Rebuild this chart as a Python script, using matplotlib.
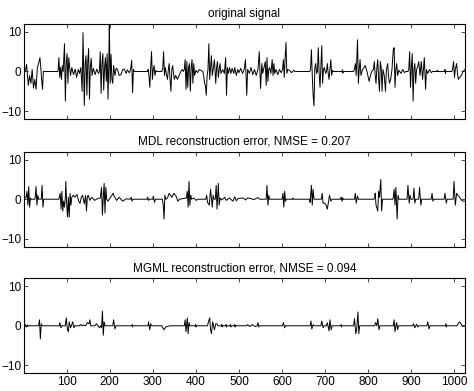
import matplotlib
matplotlib.use("Agg")
import matplotlib.pyplot as plt

# (sample index, amplitude) breakpoints
orig_pts = [
    (1, 0), (3, 0), (5, 0.5), (7, 1.8), (9, -1.0), (11, -3.5), (14, -1.0), (17, -3.0), (20, 0.5),
    (23, -4.2), (26, -2.0), (29, -4.5), (32, 1.0), (35, 2.0), (38, 3.5), (40, 1.0), (42, -2.0),
    (44, -4.5), (46, 0),
    (80, 0), (82, 3.5), (84, -1.5), (86, 1.0), (88, -2.0), (90, 1.5), (92, 0), (95, 7.0), (97, -7.5),
    (99, 2.0), (101, 4.5), (103, -3.0), (105, 3.5), (107, 1.0), (109, -1.0), (112, 1.0), (116, -0.8),
    (120, 0.6), (123, -1.5), (127, 0.5), (130, -0.5), (133, 1.0), (136, -5.0), (138, 9.8), (141, -8.6),
    (143, 2.0), (145, 4.0), (147, -6.0), (149, 2.5), (151, 5.8), (153, -7.0), (155, 1.0), (157, 3.3),
    (159, -1.0), (162, 0.8), (166, -0.8), (170, 0.6), (174, -0.5), (176, 0), (178, 5.0), (180, -5.5),
    (182, 2.0), (184, 4.5), (186, -4.7), (188, 1.0), (190, 3.5), (192, -2.5), (194, 4.5), (196, -7.0),
    (198, 3.0), (199, 12.5), (201, -3.0), (203, 4.3), (205, -2.0), (207, -3.0), (209, 1.5), (212, -1.0),
    (215, 0.8), (218, 0.5), (222, -1.0), (226, -0.8), (230, 0.5), (234, 0.6), (238, -0.5), (241, 0.4),
    (245, -0.3), (247, 0), (249, 1.0), (251, 2.8), (253, -5.4), (255, 0.5), (257, 0),
    (288, 0), (289, 0.5), (291, -1.0), (293, -4.0), (295, 1.0), (297, 5.0), (299, -2.0), (301, 0.5),
    (303, 1.5), (305, -1.0), (307, 0.3), (309, 0),
    (321, 0), (323, 0.8), (325, 5.0), (327, -1.0), (329, 1.0), (331, -0.5), (334, -2.0), (336, 0.5),
    (338, 2.0), (340, -2.0), (342, -5.0), (344, 0.5), (346, 1.5), (348, -0.5), (350, -2.0), (353, -1.0),
    (357, -2.0), (361, -1.0), (365, 0.0), (368, 0.5), (371, 0), (373, 0.5), (375, 3.0), (377, -4.5),
    (379, 2.5), (381, -4.0), (383, 1.0), (385, 2.0), (387, -5.0), (389, 1.0), (391, 3.0), (393, -3.0),
    (395, 2.0), (397, -1.0), (400, 0.3), (404, -0.3), (408, 0.5), (413, 0.2), (416, 0), (418, -1.0),
    (420, -3.0), (422, -3.5), (424, -6.0), (426, -1.0), (428, 0.5), (430, 7.0), (432, -2.0), (434, 1.0),
    (436, 4.0), (438, -1.0), (440, 0.5), (443, 3.0), (446, -3.0), (448, 1.0), (450, 2.5), (452, -1.5),
    (454, 0.5), (456, 2.0), (458, -0.5), (462, 0.5), (466, -0.5), (469, 3.5), (471, -6.0), (473, 1.0),
    (475, -0.5), (478, 1.0), (481, -0.5), (484, 0.8), (488, -0.5), (490, 1.0), (494, -1.0), (497, 0.5),
    (500, -0.3), (504, 0.8), (508, -0.5), (512, 0.5), (515, 3.0), (518, -6.0), (520, 0.5), (524, -0.5),
    (528, 1.0), (532, -0.8), (536, 0.5), (540, -1.0), (544, 0.5), (547, 5.0), (550, -4.3), (553, 2.0),
    (555, -0.5), (558, 1.0), (561, 2.5), (563, -3.5), (565, 3.5), (567, -2.5), (569, 0.5), (571, 1.0),
    (574, -0.5), (577, 3.0), (579, -1.0), (581, 2.0), (583, -0.5), (586, 0.5), (590, -0.8), (594, 0.5),
    (598, -0.3), (601, 0.5), (603, 3.0), (605, -1.5), (607, 3.5), (609, 7.3), (611, -0.5), (613, 0.5),
    (617, 0.3), (622, -0.3), (627, 0.3), (630, 0),
    (664, 0), (666, 0.5), (668, 5.5), (670, -1.0), (672, -6.0), (674, -8.7), (676, 1.0), (678, 2.0),
    (680, -0.5), (682, 0), (684, 6.0), (686, -0.5), (688, -4.0), (690, 1.0), (692, 6.5), (694, -3.0),
    (696, 0.5), (698, 1.0), (701, -0.5), (703, 0), (705, 2.0), (707, -0.5), (709, -2.0), (711, 0.5),
    (713, 3.0), (715, -1.0), (717, 0.3), (719, 0),
    (739, 0), (740, 0.4), (741, -0.4), (742, 0),
    (766, 0), (768, 0.5), (770, 2.0), (772, -1.0), (775, 8.0), (777, -3.0), (779, 0.5), (781, 3.0),
    (783, -1.0), (786, 0.3), (790, 1.0), (793, 1.5), (797, 0.0), (800, -1.5), (802, -2.5), (805, -1.0),
    (808, 0.0), (812, 0.5), (814, 2.5), (816, -1.0), (818, -3.0), (820, 1.0), (822, 3.0), (824, -2.0),
    (826, -5.0), (828, 2.5), (830, 1.0), (832, -5.0), (834, 0.5), (837, -1.0), (840, -5.0), (842, 0.5),
    (845, 2.0), (847, -1.0), (849, -3.0), (852, -2.0), (855, 0.5), (858, 5.5), (860, 6.0), (862, -4.0),
    (864, 0.5), (866, 2.0), (868, -1.0), (871, 0.3), (876, -0.5), (880, 0.5), (884, -0.3), (887, 0),
    (892, 0), (894, 0.5), (896, 5.0), (898, -4.0), (900, 1.0), (902, 4.5), (904, -7.5), (906, 0.5),
    (908, 2.0), (910, -3.0), (912, 0.5), (914, 1.0), (917, 2.5), (920, -1.0), (923, 2.5), (926, -2.0),
    (928, 0.5), (930, 3.5), (933, -4.5), (935, 0.5), (938, -0.5), (942, 0.5), (946, -0.3), (949, 0),
    (959, 0), (960, 0.3), (961, 0), (977, 0), (978, 0.5), (979, -0.5), (980, 0),
    (994, 0), (995, 0.3), (998, 2.5), (1000, -1.5), (1002, 0.5), (1005, 2.0), (1007, -0.5),
    (1009, -2.0), (1012, -1.5), (1016, -1.0), (1020, 0.0), (1024, 0.5),
]

mdl_pts = [
    (1, 0), (6, 0.5), (8, 2.0), (10, -1.5), (12, 3.2), (14, -2.0), (16, 0.3), (18, 0), (26, 0),
    (27, 0.5), (29, 3.2), (31, -1.5), (33, 1.0), (35, 0), (41, 0), (43, 3.5), (45, -2.0), (47, 0),
    (82, 0), (83, 0.5), (85, 1.5), (87, -2.5), (89, 2.0), (91, -3.0), (93, -0.5), (95, -2.0), (97, 0.5),
    (98, 4.5), (100, -1.0), (102, -4.5), (104, 0.5), (106, -4.5), (108, 1.5), (110, -1.5), (112, 0.5),
    (115, 1.0), (119, 0.5), (124, 1.2), (128, -0.5), (131, -1.0), (134, 0.5), (137, 1.0), (141, -1.2),
    (144, 1.0), (146, -3.0), (148, 0.5), (150, 1.0), (154, -0.3), (158, 0.5), (165, -0.3), (172, 0.2),
    (178, 0.3), (181, 3.0), (183, -4.0), (185, 0.5), (187, 4.0), (189, -3.5), (191, 3.0), (193, 0.0),
    (196, -0.5), (202, 0.5), (208, 1.5), (210, 0.8), (213, 0.3), (216, -0.3), (222, 0.5), (230, -0.5),
    (238, 0.1), (248, 0), (250, 0.5), (252, -0.5), (254, 0),
    (287, 0), (288, 0.5), (290, -0.3), (292, 0), (300, 0), (301, 0.8), (304, -0.8), (306, 0),
    (322, 0), (324, -1.2), (326, -5.0), (328, 1.0), (330, 0.0), (334, 0.3), (338, 1.5), (344, 0.5),
    (349, 1.5), (354, 0.8), (358, -0.5), (362, 0.0), (378, 0.3), (380, 2.0), (382, -2.0), (384, 4.5),
    (386, -1.5), (388, 1.0), (390, 0.0), (395, 0.3), (401, -0.3), (404, 0),
    (423, 0), (425, 1.0), (427, -0.8), (431, -1.5), (434, 2.5), (438, -2.0), (440, 1.0), (442, 0.0),
    (445, 0), (447, 3.5), (449, -2.5), (452, 4.0), (454, -1.5), (456, 0.3), (460, -0.2), (467, 0.5),
    (470, -0.3), (478, 0.3), (486, -0.5), (490, 0.6), (494, -0.4), (498, 0.2), (510, 0.3), (515, -0.2),
    (520, 0.3), (527, 0.2), (534, -0.1), (544, 0.4), (548, 0),
    (563, 0), (565, 3.5), (567, -1.5), (569, 1.0), (571, 0.0),
    (600, 0), (602, 1.5), (604, -2.0), (606, 2.0), (608, -0.5), (610, 0.0), (624, 0), (625, 0.3), (626, 0),
    (664, 0), (665, -0.8), (668, 3.5), (670, -1.5), (672, 2.5), (674, 0.0),
    (691, 0), (693, 1.5), (695, -1.0), (699, -1.0), (702, -1.5), (705, -2.5), (708, -0.5), (710, 1.0),
    (713, -0.5), (716, 0.0),
    (736, 0), (737, 0.5), (739, -0.5), (741, 0.3), (742, 0),
    (768, 0), (770, 1.5), (772, -1.0), (775, 0.8), (777, 0.0),
    (813, 0), (815, 0.5), (816, 1.5), (818, -1.5), (822, -3.0), (824, 2.0), (826, 0.5), (829, 5.0),
    (831, -3.0), (833, 0.0),
    (857, 0), (858, 0.5), (860, 2.5), (862, -1.5), (864, 3.0), (867, -5.0), (869, 1.0), (871, 0.0),
    (890, 0), (892, 3.5), (895, -1.0), (897, 1.0), (899, 0.0), (904, 0), (906, 2.8), (908, -1.0), (910, 0.0),
    (917, 0), (919, 3.0), (922, -1.5), (924, 0.0), (946, 0), (948, 1.5), (950, -0.5), (952, 0.0),
    (976, 0), (978, 1.5), (981, -1.0), (983, 0.0), (997, 0), (999, 4.5), (1002, -1.5), (1005, 1.5),
    (1008, 1.0), (1012, 0.5), (1016, -0.2), (1020, -0.5), (1024, -0.5),
]

mgml_pts = [
    (1, 0), (4, 0.3), (6, -0.3), (9, 0.2), (11, 0), (35, 0), (37, 1.5), (39, -3.3), (41, 0.5), (43, 0),
    (83, 0), (84, 0.8), (87, -0.5), (89, 0), (97, 0), (99, 2.0), (102, -1.0), (104, -1.5), (106, 1.0),
    (109, -0.5), (111, 0), (114, 1.0), (117, -0.5), (119, 0),
    (130, 0), (132, 0.3), (136, 0), (140, 0.2), (144, 0), (146, 0.3), (148, 0.8), (152, 0.5), (154, 1.5),
    (156, 0), (165, 0), (169, 0.5), (173, 0), (176, -0.5), (179, 0), (181, -0.5), (183, 3.7), (185, -2.4),
    (187, 1.0), (189, 0),
    (207, 0), (209, 1.5), (212, -0.8), (214, 0),
    (251, 0), (252, 0.3), (253, -0.3), (254, 0),
    (289, 0), (290, 1.0), (293, -1.0), (295, 0.5), (297, 0),
    (321, 0), (323, -0.5), (326, -1.0), (330, -0.3), (340, 0),
    (373, 0), (375, 1.5), (377, -1.5), (380, 2.0), (382, -2.0), (384, 0.8), (386, 0), (398, 0),
    (399, 0.3), (400, -0.3), (401, 0),
    (427, 0), (429, 1.0), (432, 2.0), (434, -1.0), (436, -2.0), (439, 1.0), (443, -1.0), (446, 0.5),
    (449, 0.5), (451, 0),
    (459, 0), (460, 0.3), (461, -0.3), (462, 0), (469, 0), (470, 0.3), (471, -0.3), (472, 0),
    (479, 0), (480, 0.3), (481, -0.3), (482, 0), (489, 0), (490, 0.3), (491, -0.3), (492, 0),
    (518, 0), (520, 0.3), (525, -0.2), (530, 0.3), (538, -0.2), (542, 0), (544, 0.8), (546, -0.3), (548, 0),
    (601, 0), (603, 0.8), (606, -0.5), (608, 0),
    (665, 0), (667, 1.2), (669, -0.8), (672, 0.3), (674, 0),
    (690, 0), (692, 1.2), (695, -0.5), (697, 0), (703, 0), (705, 0.8), (709, -1.3), (711, 1.5),
    (714, -1.0), (716, 0),
    (736, 0), (737, 0.3), (738, -0.3), (739, 0),
    (766, 0), (768, 1.8), (771, -2.0), (773, -1.0), (776, 3.5), (778, -2.0), (780, 0),
    (815, 0), (817, 0.8), (820, 0), (822, 1.8), (825, -1.0), (827, 0),
    (858, 0), (860, 1.5), (862, -1.5), (864, 0), (866, 0.8), (868, -1.0), (870, 0),
    (903, 0), (905, 0.5), (908, -0.5), (912, 0.4), (915, -0.3), (917, 0),
    (936, 0), (938, 1.0), (941, -0.8), (943, 0), (979, 0), (980, 0.5), (981, -0.3), (982, 0),
    (1006, 0), (1009, 0.6), (1012, 1.0), (1015, 0.5), (1018, 0), (1024, 0),
]

titles = [
    "original signal",
    "MDL reconstruction error, NMSE = 0.207",
    "MGML reconstruction error, NMSE = 0.094",
]
x_ticks = [100, 200, 300, 400, 500, 600, 700, 800, 900, 1000]
y_ticks = [-10, 0, 10]

plt.rcParams["font.family"] = ["Liberation Sans", "DejaVu Sans"]

fig = plt.figure(figsize=(4.74, 3.91), dpi=100)
bottoms = [0.6957, 0.369, 0.0453]

for i, (pts, title) in enumerate(zip([orig_pts, mdl_pts, mgml_pts], titles)):
    ax = fig.add_axes([0.0506, bottoms[i], 0.930, 0.243])
    xs = [p[0] for p in pts]
    ys = [p[1] for p in pts]
    ax.plot(xs, ys, color="black", lw=0.7)
    ax.set_xlim(1, 1024)
    ax.set_ylim(-12, 12)
    ax.set_xticks(x_ticks)
    ax.set_yticks(y_ticks)
    ax.tick_params(direction="in", top=True, right=True, length=3, width=0.5,
                   labelsize=8.5, pad=2)
    if i < 2:
        ax.set_xticklabels([])
    for s in ax.spines.values():
        s.set_linewidth(0.8)
    ax.set_title(title, fontsize=8.5, pad=5)

fig.savefig("out.png", dpi=100)
